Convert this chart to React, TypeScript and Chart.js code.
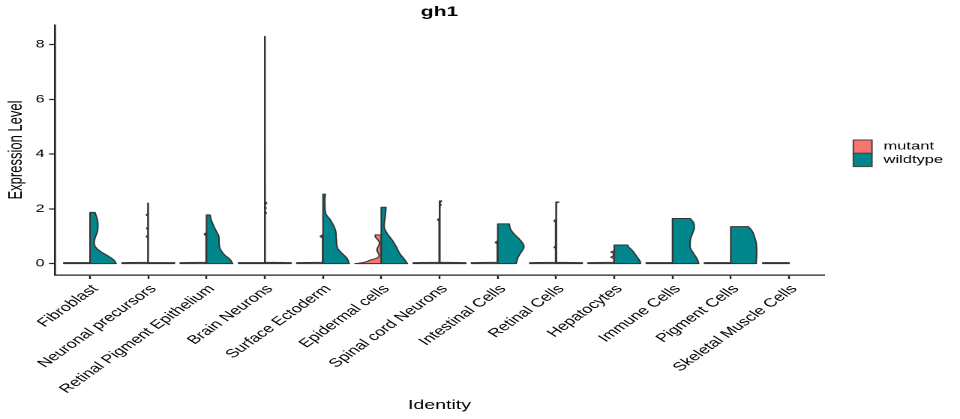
import React, { useEffect, useRef } from "react";
import { Chart, registerables } from "chart.js";

Chart.register(...registerables);

const FONT = "'Liberation Sans', Arial, Helvetica, sans-serif";

// ---------- data ----------
const categories = [
  "Fibroblast",
  "Neuronal precursors",
  "Retinal Pigment Epithelium",
  "Brain Neurons",
  "Surface Ectoderm",
  "Epidermal cells",
  "Spinal cord Neurons",
  "Intestinal Cells",
  "Retinal Cells",
  "Hepatocytes",
  "Immune Cells",
  "Pigment Cells",
  "Skeletal Muscle Cells",
];
const groups = ["mutant", "wildtype"];
const groupColors = ["#F8766D", "#00868B"];
const yTickValues = [0, 2, 4, 6, 8];
const yRange = [-0.415, 8.715];
const xRange = [-0.6, 12.6];

type Profile = [number, number][] | null; // [expression value, relative half-width]

const ZERO: [number, number][] = [[0, 1], [0.035, 1]];

const mutantProfiles: Profile[] = [
  ZERO,
  [[0, 1], [0.035, 1], [0.05, 0.04], [0.08, 0.015], [0.94, 0.015], [0.99, 0.07], [1.04, 0.015], [1.24, 0.015], [1.29, 0.06], [1.34, 0.015], [1.73, 0.015], [1.78, 0.07], [1.83, 0.015], [2.21, 0.015]],
  [[0, 1], [0.035, 1], [0.05, 0.04], [0.08, 0.015], [1.01, 0.015], [1.07, 0.08], [1.12, 0.03]],
  ZERO,
  [[0, 1], [0.035, 1], [0.05, 0.04], [0.08, 0.015], [0.93, 0.015], [0.99, 0.1], [1.05, 0.03]],
  [[0, 1.0], [0.03, 0.75], [0.08, 0.55], [0.13, 0.42], [0.18, 0.23], [0.23, 0.12], [0.3, 0.08], [0.4, 0.12], [0.48, 0.16], [0.56, 0.15], [0.65, 0.1], [0.74, 0.07], [0.82, 0.09], [0.9, 0.16], [0.97, 0.22], [1.05, 0.23]],
  [[0, 1], [0.035, 1], [0.05, 0.04], [0.08, 0.015], [1.55, 0.015], [1.6, 0.07], [1.65, 0.02]],
  [[0, 1], [0.035, 1], [0.05, 0.04], [0.08, 0.015], [0.72, 0.015], [0.77, 0.09], [0.82, 0.03]],
  [[0, 1], [0.035, 1], [0.05, 0.04], [0.08, 0.015], [0.55, 0.015], [0.6, 0.07], [0.65, 0.015], [1.51, 0.015], [1.56, 0.07], [1.61, 0.02]],
  [[0, 1], [0.035, 1], [0.05, 0.04], [0.08, 0.015], [0.18, 0.015], [0.23, 0.12], [0.3, 0.03], [0.37, 0.03], [0.42, 0.12], [0.46, 0.04]],
  ZERO,
  ZERO,
  ZERO,
];

const wildtypeProfiles: Profile[] = [
  [[0, 1.0], [0.13, 0.91], [0.26, 0.72], [0.44, 0.41], [0.6, 0.22], [0.75, 0.16], [0.93, 0.19], [1.17, 0.28], [1.36, 0.3], [1.6, 0.28], [1.87, 0.19]],
  ZERO,
  [[0, 1.0], [0.16, 0.89], [0.32, 0.69], [0.53, 0.53], [0.75, 0.48], [0.99, 0.47], [1.17, 0.38], [1.36, 0.28], [1.6, 0.18], [1.78, 0.13]],
  [[0, 1], [0.035, 1], [0.05, 0.04], [0.08, 0.015], [1.8, 0.015], [1.85, 0.06], [1.9, 0.015], [1.98, 0.015], [2.03, 0.05], [2.08, 0.015], [2.15, 0.015], [2.21, 0.07], [2.27, 0.015], [8.3, 0.01]],
  [[0, 1.0], [0.2, 0.91], [0.38, 0.72], [0.56, 0.56], [0.87, 0.51], [1.23, 0.47], [1.6, 0.28], [1.84, 0.1], [2.33, 0.07], [2.54, 0.09]],
  [[0, 1.0], [0.16, 0.88], [0.38, 0.7], [0.62, 0.57], [0.87, 0.41], [1.11, 0.22], [1.36, 0.11], [1.72, 0.15], [2.06, 0.18]],
  [[0, 1], [0.035, 1], [0.05, 0.04], [0.08, 0.015], [2.1, 0.015], [2.15, 0.06], [2.2, 0.015], [2.29, 0.08]],
  [[0, 0.7], [0.26, 0.79], [0.44, 0.91], [0.62, 1.0], [0.87, 0.85], [1.11, 0.6], [1.3, 0.47], [1.45, 0.44]],
  [[0, 1], [0.035, 1], [0.05, 0.04], [0.08, 0.015], [2.2, 0.015], [2.25, 0.11]],
  [[0, 1.0], [0.07, 0.99], [0.26, 0.86], [0.5, 0.67], [0.6, 0.56], [0.68, 0.51]],
  [[0, 1.0], [0.15, 0.95], [0.38, 0.8], [0.62, 0.67], [0.85, 0.68], [1.1, 0.76], [1.3, 0.83], [1.5, 0.8], [1.6, 0.72], [1.65, 0.67]],
  [[0, 0.97], [0.38, 0.99], [0.75, 0.97], [1.0, 0.9], [1.11, 0.86], [1.25, 0.77], [1.35, 0.67]],
  null,
];

// ---------- helpers ----------
function smoothEdge(p: [number, number][]): [number, number][] {
  const n = p.length;
  if (n < 3) return p;
  const d: number[] = [];
  const m: number[] = [];
  for (let i = 0; i < n - 1; i++) d[i] = (p[i + 1][1] - p[i][1]) / (p[i + 1][0] - p[i][0]);
  m[0] = d[0];
  m[n - 1] = d[n - 2];
  for (let i = 1; i < n - 1; i++) m[i] = d[i - 1] * d[i] <= 0 ? 0 : (d[i - 1] + d[i]) / 2;
  for (let i = 0; i < n - 1; i++) {
    if (d[i] === 0) {
      m[i] = 0;
      m[i + 1] = 0;
    } else {
      const a = m[i] / d[i];
      const b = m[i + 1] / d[i];
      const s = a * a + b * b;
      if (s > 9) {
        const t = 3 / Math.sqrt(s);
        m[i] = t * a * d[i];
        m[i + 1] = t * b * d[i];
      }
    }
  }
  const out: [number, number][] = [];
  const steps = 8;
  for (let i = 0; i < n - 1; i++) {
    const h = p[i + 1][0] - p[i][0];
    for (let k = 0; k < steps; k++) {
      const t = k / steps;
      const t2 = t * t;
      const t3 = t2 * t;
      const h00 = 2 * t3 - 3 * t2 + 1;
      const h10 = t3 - 2 * t2 + t;
      const h01 = -2 * t3 + 3 * t2;
      const h11 = t3 - t2;
      const w = h00 * p[i][1] + h10 * h * m[i] + h01 * p[i + 1][1] + h11 * h * m[i + 1];
      out.push([p[i][0] + t * h, Math.max(0, w)]);
    }
  }
  out.push(p[n - 1]);
  return out;
}

const violinPlugin = {
  id: "splitViolins",
  afterDatasetsDraw(chart: any) {
    const { ctx } = chart;
    const x = chart.scales.x;
    const y = chart.scales.y;
    chart.data.datasets.forEach((ds: any, di: number) => {
      const side = di === 0 ? -1 : 1;
      (ds.profiles as Profile[]).forEach((prof, ci) => {
        if (!prof) return;
        const cx = x.getPixelForValue(ci);
        const halfW = Math.abs(x.getPixelForValue(ci + 0.45) - cx);
        const edge = smoothEdge(prof);
        ctx.save();
        ctx.beginPath();
        ctx.moveTo(cx, y.getPixelForValue(prof[0][0]));
        for (const [v, w] of edge) ctx.lineTo(cx + side * w * halfW, y.getPixelForValue(v));
        ctx.lineTo(cx, y.getPixelForValue(prof[prof.length - 1][0]));
        ctx.closePath();
        ctx.fillStyle = ds.backgroundColor;
        ctx.fill();
        ctx.lineJoin = "round";
        ctx.strokeStyle = ds.borderColor;
        ctx.lineWidth = ds.borderWidth;
        ctx.stroke();
        ctx.restore();
      });
    });
  },
};

const legendPlugin = {
  id: "splitLegend",
  afterDraw(chart: any) {
    const { ctx, chartArea } = chart;
    const kx = chartArea.right + 19.6;
    const ky = 140;
    const kw = 12.4;
    const kh = 13.3;
    ctx.save();
    groups.forEach((g, i) => {
      const yy = ky + i * kh;
      ctx.fillStyle = groupColors[i];
      ctx.fillRect(kx, yy, kw, kh);
      ctx.strokeStyle = "#444444";
      ctx.lineWidth = 1;
      ctx.strokeRect(kx, yy, kw, kh);
      ctx.fillStyle = "#000000";
      ctx.font = `11px ${FONT}`;
      ctx.textBaseline = "middle";
      ctx.textAlign = "left";
      ctx.fillText(g, kx + kw + 7.7, yy + kh / 2);
    });
    ctx.restore();
  },
};

export default function App() {
  const ref = useRef<HTMLCanvasElement>(null);
  useEffect(() => {
    const canvas = ref.current;
    if (!canvas) return;
    const chart = new Chart(canvas, {
      type: "scatter",
      data: {
        datasets: groups.map((g, i) => ({
          label: g,
          data: [],
          backgroundColor: groupColors[i],
          borderColor: "#333333",
          borderWidth: 1,
          profiles: i === 0 ? mutantProfiles : wildtypeProfiles,
        })) as any,
      },
      options: {
        animation: false,
        responsive: false,
        devicePixelRatio: 2,
        layout: { padding: { left: 0, right: 90.7, top: 0, bottom: 0 } },
        plugins: {
          legend: { display: false },
          tooltip: { enabled: false },
          title: {
            display: true,
            text: "gh1",
            fullSize: false,
            color: "#000000",
            font: { family: FONT, size: 14, weight: "bold" },
            padding: { top: 3.6, bottom: 4.6 },
          },
        },
        scales: {
          x: {
            type: "linear",
            min: xRange[0],
            max: xRange[1],
            afterBuildTicks: (axis: any) => {
              axis.ticks = categories.map((_, i) => ({ value: i }));
            },
            afterFit: (axis: any) => {
              axis.height = 144;
            },
            ticks: {
              autoSkip: false,
              minRotation: 46.5,
              maxRotation: 46.5,
              padding: 3,
              labelOffset: 3.5,
              color: "#000000",
              font: { family: FONT, size: 12 },
              callback: (v: any) => categories[Math.round(Number(v))] ?? "",
            },
            grid: {
              display: true,
              drawOnChartArea: false,
              drawTicks: true,
              tickLength: 4,
              tickColor: "#222222",
              tickWidth: 1.2,
            },
            border: { display: true, color: "#222222", width: 1.3 },
            title: {
              display: true,
              text: "Identity",
              color: "#000000",
              font: { family: FONT, size: 13 },
              padding: { top: 0, bottom: 6 },
            },
          },
          y: {
            type: "linear",
            min: yRange[0],
            max: yRange[1],
            afterBuildTicks: (axis: any) => {
              axis.ticks = yTickValues.map((v) => ({ value: v }));
            },
            afterFit: (axis: any) => {
              axis.width = 36.7;
            },
            ticks: {
              padding: 3,
              color: "#000000",
              font: { family: FONT, size: 10.7 },
              callback: (v: any) => String(v),
            },
            grid: {
              display: true,
              drawOnChartArea: false,
              drawTicks: true,
              tickLength: 4,
              tickColor: "#222222",
              tickWidth: 1.2,
            },
            border: { display: true, color: "#222222", width: 1.3 },
            title: {
              display: true,
              text: "Expression Level",
              color: "#000000",
              font: { family: FONT, size: 13 },
              padding: { top: 3.3, bottom: 0 },
            },
          },
        },
      } as any,
      plugins: [violinPlugin, legendPlugin],
    });
    return () => chart.destroy();
  }, []);

  return (
    <div
      style={{
        position: "absolute",
        left: 0,
        top: 0,
        width: 640,
        height: 419,
        transform: "scaleX(1.5)",
        transformOrigin: "0 0",
      }}
    >
      <canvas
        ref={ref}
        width={640}
        height={419}
        style={{ width: "640px", height: "419px", display: "block" }}
      />
    </div>
  );
}
